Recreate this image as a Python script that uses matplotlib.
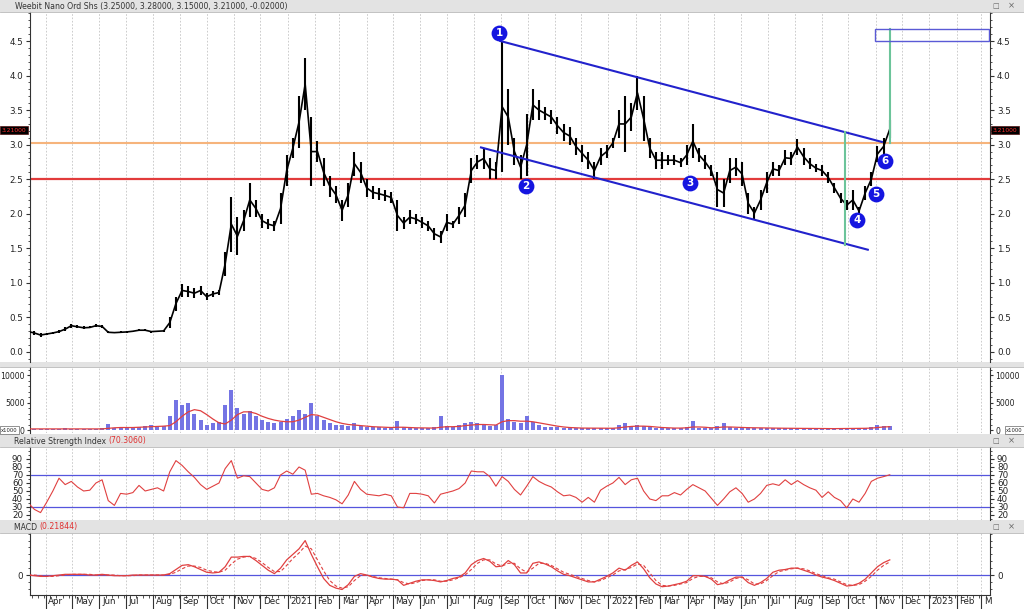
import numpy as np
import pandas as pd
import matplotlib
matplotlib.use("Agg")
import matplotlib.pyplot as plt
import matplotlib.dates as mdates
import matplotlib.transforms as mtrans
from matplotlib.patches import Rectangle
from matplotlib.ticker import MultipleLocator, FixedLocator, FuncFormatter

# ------------------------------------------------------------------ data ----
# weekly samples (price in $, volume in x1000 shares)
WEEK0 = "2020-03-12"

price_high = [
    0.32, 0.30, 0.27, 0.28, 0.29, 0.32, 0.36, 0.41, 0.39, 0.37,
    0.37, 0.40, 0.39, 0.30, 0.29, 0.30, 0.30, 0.31, 0.33, 0.33,
    0.31, 0.31, 0.32, 0.50, 0.80, 0.98, 0.95, 0.92, 0.96, 0.85,
    0.88, 0.90, 1.45, 2.25, 1.95, 2.05, 2.45, 2.20, 2.00, 1.92,
    1.90, 2.30, 2.85, 3.10, 3.70, 4.25, 3.40, 3.05, 2.80, 2.55,
    2.40, 2.20, 2.45, 2.90, 2.75, 2.50, 2.40, 2.38, 2.35, 2.32,
    2.20, 1.95, 2.05, 2.00, 1.95, 1.90, 1.80, 1.75, 2.00, 1.90,
    2.10, 2.30, 2.80, 2.85, 2.95, 2.80, 2.75, 4.50, 3.80, 3.10,
    2.85, 3.45, 3.80, 3.65, 3.55, 3.50, 3.40, 3.30, 3.25, 3.10,
    3.00, 2.90, 2.75, 2.95, 3.00, 3.10, 3.50, 3.70, 3.60, 4.00,
    3.70, 3.10, 2.90, 2.90, 2.85, 2.85, 2.80, 3.00, 3.30, 2.95,
    2.85, 2.70, 2.60, 2.50, 2.80, 2.80, 2.75, 2.30, 2.10, 2.35,
    2.60, 2.75, 2.70, 2.92, 2.90, 3.08, 2.95, 2.80, 2.72, 2.70,
    2.60, 2.45, 2.30, 2.20, 2.35, 2.10, 2.40, 2.60, 2.98, 3.10, 3.35,
]
price_low = [
    0.27, 0.25, 0.22, 0.24, 0.26, 0.27, 0.30, 0.35, 0.34, 0.33,
    0.34, 0.36, 0.35, 0.27, 0.27, 0.27, 0.28, 0.29, 0.30, 0.30,
    0.28, 0.29, 0.29, 0.35, 0.60, 0.80, 0.80, 0.78, 0.82, 0.75,
    0.80, 0.82, 1.10, 1.45, 1.40, 1.75, 1.95, 1.95, 1.80, 1.78,
    1.75, 1.85, 2.40, 2.80, 2.95, 3.50, 2.40, 2.75, 2.40, 2.25,
    2.15, 1.90, 2.10, 2.55, 2.45, 2.25, 2.22, 2.20, 2.18, 2.15,
    1.75, 1.78, 1.85, 1.85, 1.80, 1.75, 1.62, 1.58, 1.75, 1.80,
    1.85, 1.95, 2.45, 2.65, 2.65, 2.50, 2.50, 2.60, 3.00, 2.70,
    2.50, 2.55, 3.35, 3.35, 3.35, 3.30, 3.15, 3.05, 3.00, 2.85,
    2.75, 2.65, 2.50, 2.70, 2.80, 2.95, 3.10, 2.90, 3.20, 3.50,
    3.05, 2.80, 2.65, 2.65, 2.70, 2.70, 2.68, 2.70, 2.80, 2.75,
    2.65, 2.55, 2.10, 2.10, 2.45, 2.55, 2.40, 2.00, 1.92, 2.05,
    2.30, 2.55, 2.55, 2.70, 2.70, 2.85, 2.70, 2.65, 2.60, 2.55,
    2.45, 2.30, 2.15, 2.05, 2.05, 1.98, 2.20, 2.40, 2.75, 2.85, 3.10,
]
volume = [
    200, 150, 150, 100, 200, 250, 300, 250, 200, 200,
    150, 250, 300, 1100, 400, 400, 350, 300, 500, 700,
    1000, 700, 800, 2500, 5500, 4500, 5000, 3000, 1800, 1000,
    1200, 1500, 4500, 7200, 4000, 3000, 3500, 2500, 1800, 1500,
    1200, 1500, 2000, 2500, 3700, 3000, 5000, 2500, 1800, 1200,
    1000, 900, 800, 1200, 700, 600, 500, 500, 400, 400,
    1600, 600, 400, 350, 350, 300, 500, 2500, 700, 600,
    900, 1300, 1500, 1200, 1000, 800, 900, 10000, 2000, 1500,
    1200, 2500, 1500, 900, 600, 500, 500, 400, 400, 300,
    300, 350, 400, 300, 300, 350, 900, 1200, 800, 900,
    700, 500, 400, 400, 300, 300, 350, 600, 1700, 400,
    350, 300, 700, 1200, 500, 400, 400, 500, 400, 350,
    400, 300, 300, 350, 300, 300, 250, 250, 200, 250,
    200, 250, 300, 350, 300, 350, 400, 600, 1000, 700, 800,
]
volume_ma = [
    200, 200, 200, 200, 200, 200, 200, 200, 200, 200,
    200, 200, 200, 300, 400, 450, 450, 450, 500, 550,
    600, 650, 700, 800, 1500, 2500, 3300, 3700, 3500, 2800,
    2000, 1300, 1100, 1800, 2800, 3300, 3300, 3000, 2500, 2100,
    1800, 1600, 1500, 1500, 1800, 2300, 2800, 2700, 2300, 1900,
    1500, 1200, 1000, 900, 800, 700, 600, 550, 500, 450,
    500, 500, 450, 400, 380, 350, 350, 500, 600, 600,
    650, 800, 900, 1000, 1000, 950, 900, 1500, 1700, 1700,
    1600, 1600, 1500, 1300, 1100, 900, 700, 550, 450, 400,
    350, 350, 350, 330, 320, 320, 400, 550, 650, 700,
    700, 650, 550, 450, 400, 350, 350, 400, 550, 550,
    500, 400, 450, 550, 550, 500, 450, 420, 400, 380,
    370, 350, 330, 320, 310, 300, 290, 280, 270, 260,
    250, 250, 260, 270, 280, 290, 310, 350, 450, 550, 600,
]
rsi = [
    35, 27, 23, 36, 50, 66, 58, 62, 55, 50,
    51, 60, 64, 38, 32, 47, 46, 48, 57, 50,
    52, 54, 50, 74, 88, 82, 74, 67, 58, 52,
    56, 60, 78, 88, 66, 69, 68, 60, 52, 50,
    54, 70, 75, 71, 80, 76, 46, 47, 44, 42,
    39, 34, 45, 62, 52, 46, 45, 44, 46, 44,
    30, 29, 47, 47, 46, 44, 35, 46, 48, 50,
    53, 60, 75, 74, 74, 68, 56, 68, 62, 52,
    45, 56, 68, 62, 58, 55, 49, 44, 45, 42,
    36, 42, 36, 51, 56, 60, 67, 58, 64, 66,
    50, 40, 38, 44, 44, 48, 45, 52, 58, 54,
    50, 41, 32, 40, 49, 54, 47, 36, 40, 47,
    57, 59, 57, 64, 58, 63, 58, 54, 51, 42,
    49, 42, 38, 29, 40, 36, 47, 62, 66, 68, 70.3,
]
macd = [
    0.00, -0.01, -0.02, -0.02, -0.01, 0.00, 0.01, 0.01, 0.01, 0.01,
    0.00, 0.00, 0.01, 0.00, -0.01, -0.01, -0.01, 0.00, 0.00, 0.00,
    0.00, 0.00, 0.00, 0.02, 0.08, 0.14, 0.15, 0.12, 0.08, 0.04,
    0.03, 0.04, 0.12, 0.26, 0.26, 0.27, 0.27, 0.21, 0.14, 0.07,
    0.02, 0.10, 0.22, 0.30, 0.38, 0.50, 0.30, 0.12, -0.05, -0.15,
    -0.19, -0.21, -0.14, -0.02, 0.02, 0.00, -0.03, -0.05, -0.06, -0.06,
    -0.07, -0.15, -0.12, -0.09, -0.07, -0.07, -0.08, -0.10, -0.08, -0.05,
    -0.03, 0.03, 0.15, 0.21, 0.24, 0.20, 0.12, 0.13, 0.21, 0.15,
    0.03, 0.03, 0.17, 0.19, 0.16, 0.12, 0.06, 0.01, -0.01, -0.04,
    -0.07, -0.10, -0.10, -0.06, -0.02, 0.03, 0.10, 0.07, 0.14, 0.19,
    0.09, -0.04, -0.13, -0.17, -0.16, -0.14, -0.12, -0.09, -0.01, -0.01,
    -0.02, -0.06, -0.14, -0.12, -0.07, -0.03, -0.03, -0.11, -0.15, -0.11,
    -0.05, 0.04, 0.07, 0.08, 0.10, 0.10, 0.07, 0.04, 0.00, -0.03,
    -0.05, -0.08, -0.12, -0.16, -0.15, -0.12, -0.06, 0.03, 0.12, 0.18, 0.22,
]
macd_signal = [
    0.00, 0.00, -0.01, -0.02, -0.02, -0.01, 0.00, 0.01, 0.01, 0.01,
    0.01, 0.00, 0.00, 0.00, 0.00, -0.01, -0.01, -0.01, 0.00, 0.00,
    0.00, 0.00, 0.00, 0.01, 0.04, 0.09, 0.13, 0.13, 0.11, 0.07,
    0.05, 0.04, 0.07, 0.16, 0.23, 0.26, 0.27, 0.24, 0.18, 0.11,
    0.05, 0.05, 0.14, 0.24, 0.32, 0.42, 0.38, 0.22, 0.06, -0.08,
    -0.16, -0.19, -0.17, -0.08, -0.01, 0.00, -0.02, -0.04, -0.05, -0.06,
    -0.07, -0.11, -0.13, -0.11, -0.08, -0.07, -0.07, -0.09, -0.09, -0.07,
    -0.04, 0.00, 0.08, 0.17, 0.22, 0.22, 0.16, 0.13, 0.17, 0.17,
    0.09, 0.04, 0.10, 0.17, 0.17, 0.14, 0.09, 0.04, 0.01, -0.02,
    -0.05, -0.08, -0.10, -0.08, -0.04, 0.00, 0.06, 0.08, 0.11, 0.16,
    0.14, 0.03, -0.08, -0.15, -0.16, -0.15, -0.13, -0.11, -0.05, -0.02,
    -0.02, -0.04, -0.10, -0.13, -0.10, -0.05, -0.03, -0.07, -0.13, -0.13,
    -0.08, -0.01, 0.05, 0.07, 0.09, 0.10, 0.09, 0.06, 0.02, -0.01,
    -0.04, -0.06, -0.10, -0.14, -0.15, -0.14, -0.09, -0.02, 0.07, 0.14, 0.19,
]

# drawn annotations
support_level = 2.50
resist_level = 3.03
last_close = 3.21
channel_upper = (["2021-08-31", "2022-11-08"], [4.50, 3.04])
channel_lower = (["2021-08-09", "2022-10-23"], [2.96, 1.48])
green_1 = ("2022-09-27", 1.55, 3.19)
green_2 = ("2022-11-17", 3.03, 4.67)
target_box = ("2022-10-31", 4.50, 4.68)
marker_labels = ["1", "2", "3", "4", "5", "6"]
marker_dates = ["2021-08-30", "2021-09-29", "2022-04-04",
                "2022-10-11", "2022-11-01", "2022-11-11"]
marker_prices = [4.62, 2.40, 2.45, 1.91, 2.29, 2.76]

X_START, X_END = "2020-03-14", "2023-03-11"

# ---------------------------------------------------------------- layout ----
W, H = 1024, 609
fig = plt.figure(figsize=(W / 100, H / 100), dpi=100)
fig.patch.set_facecolor("white")


def frac(left, top, right, bottom):
    return [left / W, 1 - bottom / H, (right - left) / W, (bottom - top) / H]


def band(top, bottom):
    fig.add_artist(Rectangle((0, 1 - bottom / H), 1, (bottom - top) / H,
                             transform=fig.transFigure, facecolor="#e3e3e3",
                             edgecolor="none", zorder=0))
    fig.add_artist(plt.Line2D([0, 1], [1 - bottom / H] * 2,
                              transform=fig.transFigure, color="#b8b8b8", lw=0.6))


band(0, 12)
band(362, 367)
band(434, 447)
band(520, 533)

ax_p = fig.add_axes(frac(30, 12, 990, 362))
ax_v = fig.add_axes(frac(30, 367, 990, 433), sharex=ax_p)
ax_r = fig.add_axes(frac(30, 447, 990, 520), sharex=ax_p)
ax_m = fig.add_axes(frac(30, 533, 990, 595), sharex=ax_p)

xs = mdates.date2num(pd.date_range(WEEK0, periods=len(price_high), freq="7D"))
d = lambda s: mdates.date2num(pd.Timestamp(s))

TXT = "#222222"
BLUE = "#2222cc"
REDL = "#e04040"

# ---------------------------------------------------------------- price -----
# weekly high-low bars, joined through the bar midpoints
mid = (np.array(price_high) + np.array(price_low)) / 2
ax_p.vlines(xs, price_low, price_high, color="black", lw=1.5, zorder=3)
ax_p.plot(xs, mid, color="black", lw=1.2, zorder=3)
ax_p.axhline(support_level, color="#e23b3b", lw=1.6, zorder=2)
ax_p.axhline(resist_level, color="#f6b47c", lw=1.5, zorder=2)
ax_p.plot([d(s) for s in channel_upper[0]], channel_upper[1], color=BLUE, lw=1.5, zorder=4)
ax_p.plot([d(s) for s in channel_lower[0]], channel_lower[1], color=BLUE, lw=1.5, zorder=4)
for gd, g0, g1 in (green_1, green_2):
    ax_p.plot([d(gd), d(gd)], [g0, g1], color="#6cc49a", lw=1.5, zorder=4)
ax_p.add_patch(Rectangle((d(target_box[0]), target_box[1]),
                         d(X_END) - d(target_box[0]) - 1, target_box[2] - target_box[1],
                         facecolor="none", edgecolor="#5a5ad6", lw=1.0, zorder=4))
mx = [d(s) for s in marker_dates]
ax_p.scatter(mx, marker_prices, s=130, color="#1515e0", zorder=6, linewidths=0)
for x, y, lab in zip(mx, marker_prices, marker_labels):
    ax_p.text(x, y, lab, color="white", fontsize=7.5, fontweight="bold",
              ha="center", va="center", zorder=7)
ax_p.set_ylim(-0.145, 4.92)
ax_p.yaxis.set_major_locator(MultipleLocator(0.5))
ax_p.yaxis.set_minor_locator(MultipleLocator(0.1))
ax_p.yaxis.set_major_formatter(FuncFormatter(lambda v, p: f"{v:.1f}"))

blend_l = mtrans.blended_transform_factory(ax_p.transAxes, ax_p.transData)
for xa in (-0.0292, 1.003):
    ax_p.text(xa, last_close, "3.21000", transform=blend_l, fontsize=4.3,
              color="#ff3030", ha="left", va="center",
              bbox=dict(boxstyle="square,pad=0.25", fc="black", ec="#551111", lw=0.5))

# --------------------------------------------------------------- volume -----
ax_v.bar(xs, volume, width=4.5, color="#7474e4", linewidth=0, zorder=3)
ax_v.plot(xs, volume_ma, color=REDL, lw=0.9, zorder=4)
ax_v.set_ylim(-545, 11455)
ax_v.yaxis.set_major_locator(FixedLocator([0, 5000, 10000]))
ax_v.yaxis.set_minor_locator(MultipleLocator(1000))
blend_v = mtrans.blended_transform_factory(ax_v.transAxes, ax_v.transData)
for xa in (-0.0300, 1.017):
    ax_v.text(xa, 0, "x1000", transform=blend_v, fontsize=3.8, color=TXT,
              ha="left", va="center",
              bbox=dict(boxstyle="square,pad=0.2", fc="white", ec="#666666", lw=0.5))

# ------------------------------------------------------------------ RSI -----
ax_r.plot(xs, rsi, color=REDL, lw=0.8, zorder=3)
ax_r.axhline(70, color="#5555dd", lw=0.9, zorder=2)
ax_r.axhline(30, color="#5555dd", lw=0.9, zorder=2)
ax_r.set_ylim(13.75, 105)
ax_r.yaxis.set_major_locator(FixedLocator([20, 30, 40, 50, 60, 70, 80, 90]))
ax_r.yaxis.set_minor_locator(MultipleLocator(5))

# ----------------------------------------------------------------- MACD -----
ax_m.plot(xs, macd, color=REDL, lw=0.9, zorder=3)
ax_m.plot(xs, macd_signal, color=REDL, lw=0.8, ls=(0, (3, 2)), zorder=3)
ax_m.axhline(0, color="#5555dd", lw=0.9, zorder=2)
ax_m.set_ylim(-0.29, 0.61)
ax_m.yaxis.set_major_locator(FixedLocator([0]))
ax_m.yaxis.set_minor_locator(MultipleLocator(0.1))

# --------------------------------------------------------------- styling ----
ax_m.set_xlim(d(X_START), d(X_END))
ax_m.xaxis.set_major_locator(mdates.MonthLocator())
ax_m.xaxis.set_minor_locator(mdates.WeekdayLocator(byweekday=mdates.MO))


def month_label(v, pos):
    t = mdates.num2date(v)
    if t.year == 2023 and t.month == 3:
        return "M"
    return str(t.year) if t.month == 1 else t.strftime("%b")


ax_m.xaxis.set_major_formatter(FuncFormatter(month_label))

for ax in (ax_p, ax_v, ax_r, ax_m):
    ax.set_facecolor("white")
    ax.grid(axis="x", which="major", color="#c4c4c4", linestyle=(0, (2, 2)), lw=0.6)
    ax.set_axisbelow(True)
    for s in ("top", "bottom"):
        ax.spines[s].set_visible(False)
    for s in ("left", "right"):
        ax.spines[s].set_color("#333333")
        ax.spines[s].set_linewidth(0.8)
    ax.tick_params(axis="y", which="both", left=True, right=True,
                   labelleft=True, labelright=True, direction="out",
                   colors="#333333", labelcolor=TXT, labelsize=6.3)
    ax.tick_params(axis="y", which="major", length=3, pad=2)
    ax.tick_params(axis="y", which="minor", length=1.6)
    if ax is not ax_m:
        ax.tick_params(axis="x", which="both", bottom=False, labelbottom=False)

# volume labels are wide: a touch smaller so "10000" fits the left margin
ax_v.tick_params(axis="y", which="major", labelsize=5.6, pad=1.5, length=2.5)

ax_m.spines["bottom"].set_visible(True)
ax_m.spines["bottom"].set_color("#333333")
ax_m.spines["bottom"].set_linewidth(0.8)
ax_m.tick_params(axis="x", which="major", length=10, pad=-8.5, labelsize=6.3,
                 labelcolor=TXT, colors="#333333")
ax_m.tick_params(axis="x", which="minor", length=2.5, colors="#333333")
shift = mtrans.ScaledTranslation(2.5 / 100, 0, fig.dpi_scale_trans)
for lbl in ax_m.get_xticklabels():
    lbl.set_horizontalalignment("left")
    lbl.set_verticalalignment("top")
    lbl.set_transform(lbl.get_transform() + shift)

# --------------------------------------------------------------- titles -----
fig.text(15 / W, 1 - 6 / H,
         "Weebit Nano Ord Shs (3.25000, 3.28000, 3.15000, 3.21000, -0.02000)",
         fontsize=5.6, color="#333333", va="center", ha="left")


def two_part_title(y_px, name, value):
    t1 = fig.text(14 / W, 1 - y_px / H, name + " ", fontsize=5.6,
                  color="#333333", va="center", ha="left")
    fig.canvas.draw()
    bb = t1.get_window_extent()
    fig.text(bb.x1 / W, 1 - y_px / H, f"({value})", fontsize=5.6,
             color="#e03030", va="center", ha="left")


two_part_title(441, "Relative Strength Index", "70.3060")
two_part_title(527, "MACD", "0.21844")

for y_px in (441, 527, 6):
    fig.text(996 / W, 1 - y_px / H, "\u25a1", fontsize=5, color="#666666",
             va="center", ha="center")
    fig.text(1011 / W, 1 - y_px / H, "\u00d7", fontsize=6, color="#666666",
             va="center", ha="center")

fig.savefig("out.png", dpi=100)
